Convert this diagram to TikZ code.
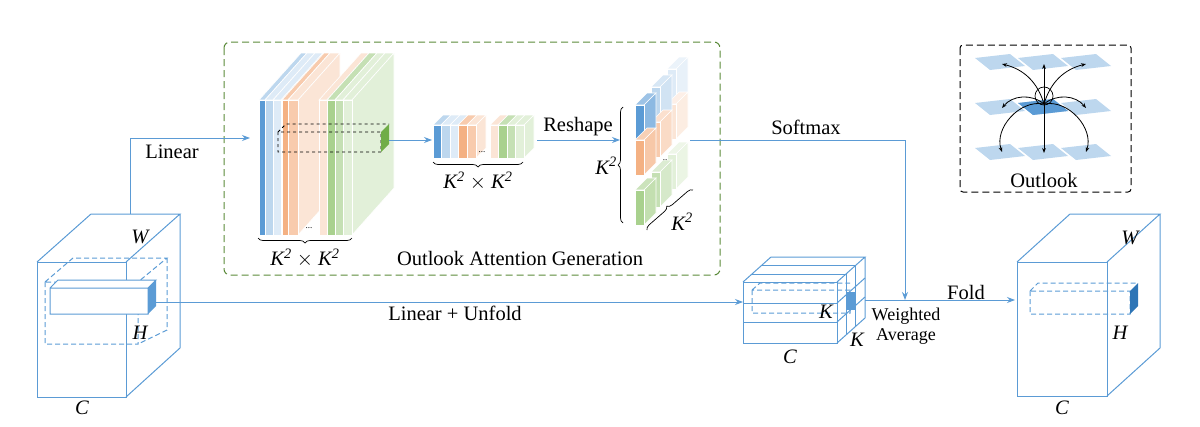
\documentclass[tikz,border=0pt]{standalone}
\usepackage{fontspec}
\setmainfont{Liberation Serif}
\usetikzlibrary{decorations.pathreplacing,arrows.meta}
\definecolor{ln}{HTML}{5B9BD5}
\definecolor{Ba}{HTML}{5B9BD5}\definecolor{Bb}{HTML}{BDD7EE}\definecolor{Bc}{HTML}{DEEBF7}
\definecolor{Oa}{HTML}{F4B183}\definecolor{Ob}{HTML}{F8CBAD}\definecolor{Oc}{HTML}{FBE5D6}
\definecolor{Ga}{HTML}{A9D18E}\definecolor{Gb}{HTML}{C5E0B4}\definecolor{Gc}{HTML}{E2F0D9}
\definecolor{Gd}{HTML}{70AD47}\definecolor{Bd}{HTML}{2E75B6}
\newcommand\myprism[9]{%
 \fill[#8,draw=white,line width=0.6pt] (#1,#2)--++(#5,#6)--++(#3,0)--++(-#5,-#6)--cycle;
 \fill[#9,draw=white,line width=0.6pt] (#1+#3,#2)--++(#5,#6)--++(0,#4)--++(-#5,-#6)--cycle;
 \fill[#7,draw=white,line width=0.6pt] (#1,#2) rectangle ++(#3,#4);}
\tikzset{lbl/.style={font=\fontsize{20.5}{24}\selectfont},
 ilbl/.style={font=\fontsize{20.5}{24}\selectfont\itshape},
 conn/.style={ln,line width=1pt,-{Stealth[length=8pt,width=6pt]}},
 edge/.style={ln,line width=1pt},
 dedge/.style={ln,line width=1pt,dashed,dash pattern=on 5pt off 3pt},
 brc/.style={decorate,decoration={brace,amplitude=5pt},line width=0.7pt},
 brcm/.style={decorate,decoration={brace,mirror,amplitude=5pt},line width=0.7pt}}
\begin{document}
\begin{tikzpicture}[x=1pt,y=-1pt]
\useasboundingbox (0,0) rectangle (1200,426);
% ---------- left cube
\draw[edge] (37,262) rectangle (126,397);
\draw[edge] (37,262)--(91,214)--(180,214)--(126,262) (180,214)--(180,348)--(126,397);
\draw[dedge] (45,282) rectangle (138,344) (45,282)--(73,258)--(167,258)--(138,282) (167,258)--(167,330)--(138,344);
\draw[edge,fill=white] (50,288) rectangle (148,314) (50,288)--(58,280)--(156,280)--(148,288);
\fill[Ba] (148,288)--(156,280)--(156,306)--(148,314)--cycle;
\node[ilbl] (lW) at (140,237) {W};
\node[ilbl] (lH) at (140,333) {H};
\node[ilbl] (lC) at (82,408) {C};
\coordinate (lt) at (130,214);
\coordinate (lb) at (156,302);
% ---------- green box
\draw[Gd!80!black,line width=1pt,dashed,dash pattern=on 7pt off 4pt,rounded corners=6pt] (224,42) rectangle (720,275);
% big stack
\foreach \x/\w/\f/\s in {259/6/Ba/Bb,265/8/Bb/Bc,273/8/Bc/Bc,282/6/Oa/Ob,288/10/Ob/Oc,319/8/Oc/Oc,327/8/Ga/Gb,335/8/Gb/Gc,343/9/Gc/Gc}
 {\myprism{\x}{100}{\w}{135}{42}{-47}{\f}{\s}{\s}}
\node[font=\small] at (309,228) {...};
\draw[black,dashed,line width=0.9pt] (278,132) rectangle (381,152) (278,132)--(286,124)--(389,124);
\fill[Gd] (381,132)--(389,124)--(389,144)--(381,152)--cycle;
\coordinate (bs) at (389,140);
\draw[brcm] (258,238)--(352,238);
\node[ilbl] (bk) at (305,258) {K\textsuperscript{2} {\upshape$\times$} K\textsuperscript{2}};
% small stack
\foreach \x/\w/\f/\s in {433/8/Ba/Bb,441/9/Bb/Bc,450/8/Bc/Bc,458/9/Oa/Ob,467/9/Ob/Oc,490/8/Oc/Oc,498/9/Ga/Gb,507/8/Gb/Gc,515/9/Gc/Gc}
 {\myprism{\x}{125}{\w}{33}{10}{-10}{\f}{\s}{\s}}
\node[font=\small] at (482,152) {...};
\coordinate (ss) at (432,140);
\coordinate (se) at (537,140);
\draw[brcm] (433,162)--(523,162);
\node[ilbl] (sk) at (478,181) {K\textsuperscript{2} {\upshape$\times$} K\textsuperscript{2}};
% reshaped
\foreach \d/\b/\o/\g in {2/Bc/Oc/Gc,1/Bb/Ob/Gb,0/Ba/Oa/Ga}{
 \myprism{635+16*\d}{105-18*\d}{9}{35}{12}{-12}{\b}{\b!60!white}{\b!70!white}
 \myprism{635+16*\d}{140-18*\d}{9}{35}{12}{-12}{\o}{\o!60!white}{\o!70!white}
 \myprism{635+16*\d}{190-18*\d}{9}{35}{12}{-12}{\g}{\g!60!white}{\g!70!white}}
\node[font=\small] at (665,160) {..};
\draw[brc] (623,223)--(623,107);
\node[ilbl] (rk1) at (606,166) {K\textsuperscript{2}};
\draw[brc] (647,230)--(693,190);
\node[ilbl] (rk2) at (682,222) {K\textsuperscript{2}};
\coordinate (rs) at (620,140);
\coordinate (re) at (690,140);
% ---------- middle cube
\draw[edge] (743,282) rectangle (837,343) (743,303)--(837,303) (743,322)--(837,322);
\draw[edge] (743,282)--(771,257)--(865,257)--(837,282) (865,257)--(865,318)--(837,343);
\draw[edge] (752,274)--(846,274) (761,265)--(855,265);
\draw[edge] (846,274)--(846,335) (855,265)--(855,326);
\draw[edge] (837,303)--(865,278) (837,322)--(865,297);
\draw[dedge] (752,290) rectangle (850,313) (752,290)--(760,283)--(850,283);
\fill[Ba] (847,292) rectangle (855,310);
\node[ilbl] (mk1) at (826,312) {K};
\node[ilbl] (mk2) at (857,340) {K};
\node[ilbl] (mc) at (790,357) {C};
\node[align=center,font=\fontsize{18}{20}\selectfont] (wa) at (906,326) {Weighted\\Average};
\coordinate (mi) at (743,302);
\coordinate (mo) at (865,300);
\coordinate (mj) at (905,300);
% ---------- right cube
\draw[edge] (1017,262) rectangle (1107,396);
\draw[edge] (1017,262)--(1070,214)--(1160,214)--(1107,262) (1160,214)--(1160,348)--(1107,396);
\draw[dedge] (1030,291) rectangle (1130,314) (1030,291)--(1038,283)--(1138,283);
\fill[Bd] (1130,291)--(1138,283)--(1138,306)--(1130,314)--cycle;
\node[ilbl] (rW) at (1130,238) {W};
\node[ilbl] (rH) at (1120,333) {H};
\node[ilbl] (rC) at (1062,408) {C};
\coordinate (ri) at (1015,300);
% ---------- connectors
\draw[conn] (lt)--(130,138)--(250,138);
\node[lbl] (t1) at (172,152) {Linear};
\draw[conn] (lb)--(mi);
\node[lbl] (t2) at (455,313) {Linear + Unfold};
\draw[conn] (bs)--(ss);
\draw[conn] (se)--(rs);
\node[lbl] (t3) at (578,127) {Reshape};
\draw[conn] (re)--(905,140)--(mj);
\node[lbl] (t4) at (806,127) {Softmax};
\draw[conn] (mo)--(ri);
\node[lbl] (t5) at (966,292) {Fold};
\node[lbl] (t6) at (520,258) {Outlook Attention Generation};
% ---------- outlook box
\draw[black,line width=1pt,dashed,dash pattern=on 7pt off 4pt,rounded corners=3pt] (960,45) rectangle (1131,192);
\foreach \yy in {62,107,152}\foreach \xx in {1000,1043,1086}{
 \fill[Bb] (\xx-25,\yy-4)--(\xx+10,\yy-8)--(\xx+25,\yy+4)--(\xx-10,\yy+8)--cycle;}
\fill[Ba] (1043-25,107-4)--(1043+10,107-8)--(1043+25,107+4)--(1043-10,107+8)--cycle;
\coordinate (oc) at (1044,104);
\draw[black,line width=0.7pt] (1044,96) circle (9);
\foreach \tx/\ty/\bd in {1002/64/30,1086/64/-30,1002/108/45,1086/108/-45,1002/152/60,1086/152/-60}
 \draw[black,line width=0.8pt,-{Stealth[length=5pt]}] (oc) to[bend right=\bd] (\tx,\ty);
\draw[black,line width=0.8pt,-{Stealth[length=5pt]}] (oc)--(1044,64);
\draw[black,line width=0.8pt,-{Stealth[length=5pt]}] (oc)--(1044,153);
\node[lbl] (ol) at (1044,180) {Outlook};
\end{tikzpicture}
\end{document}
